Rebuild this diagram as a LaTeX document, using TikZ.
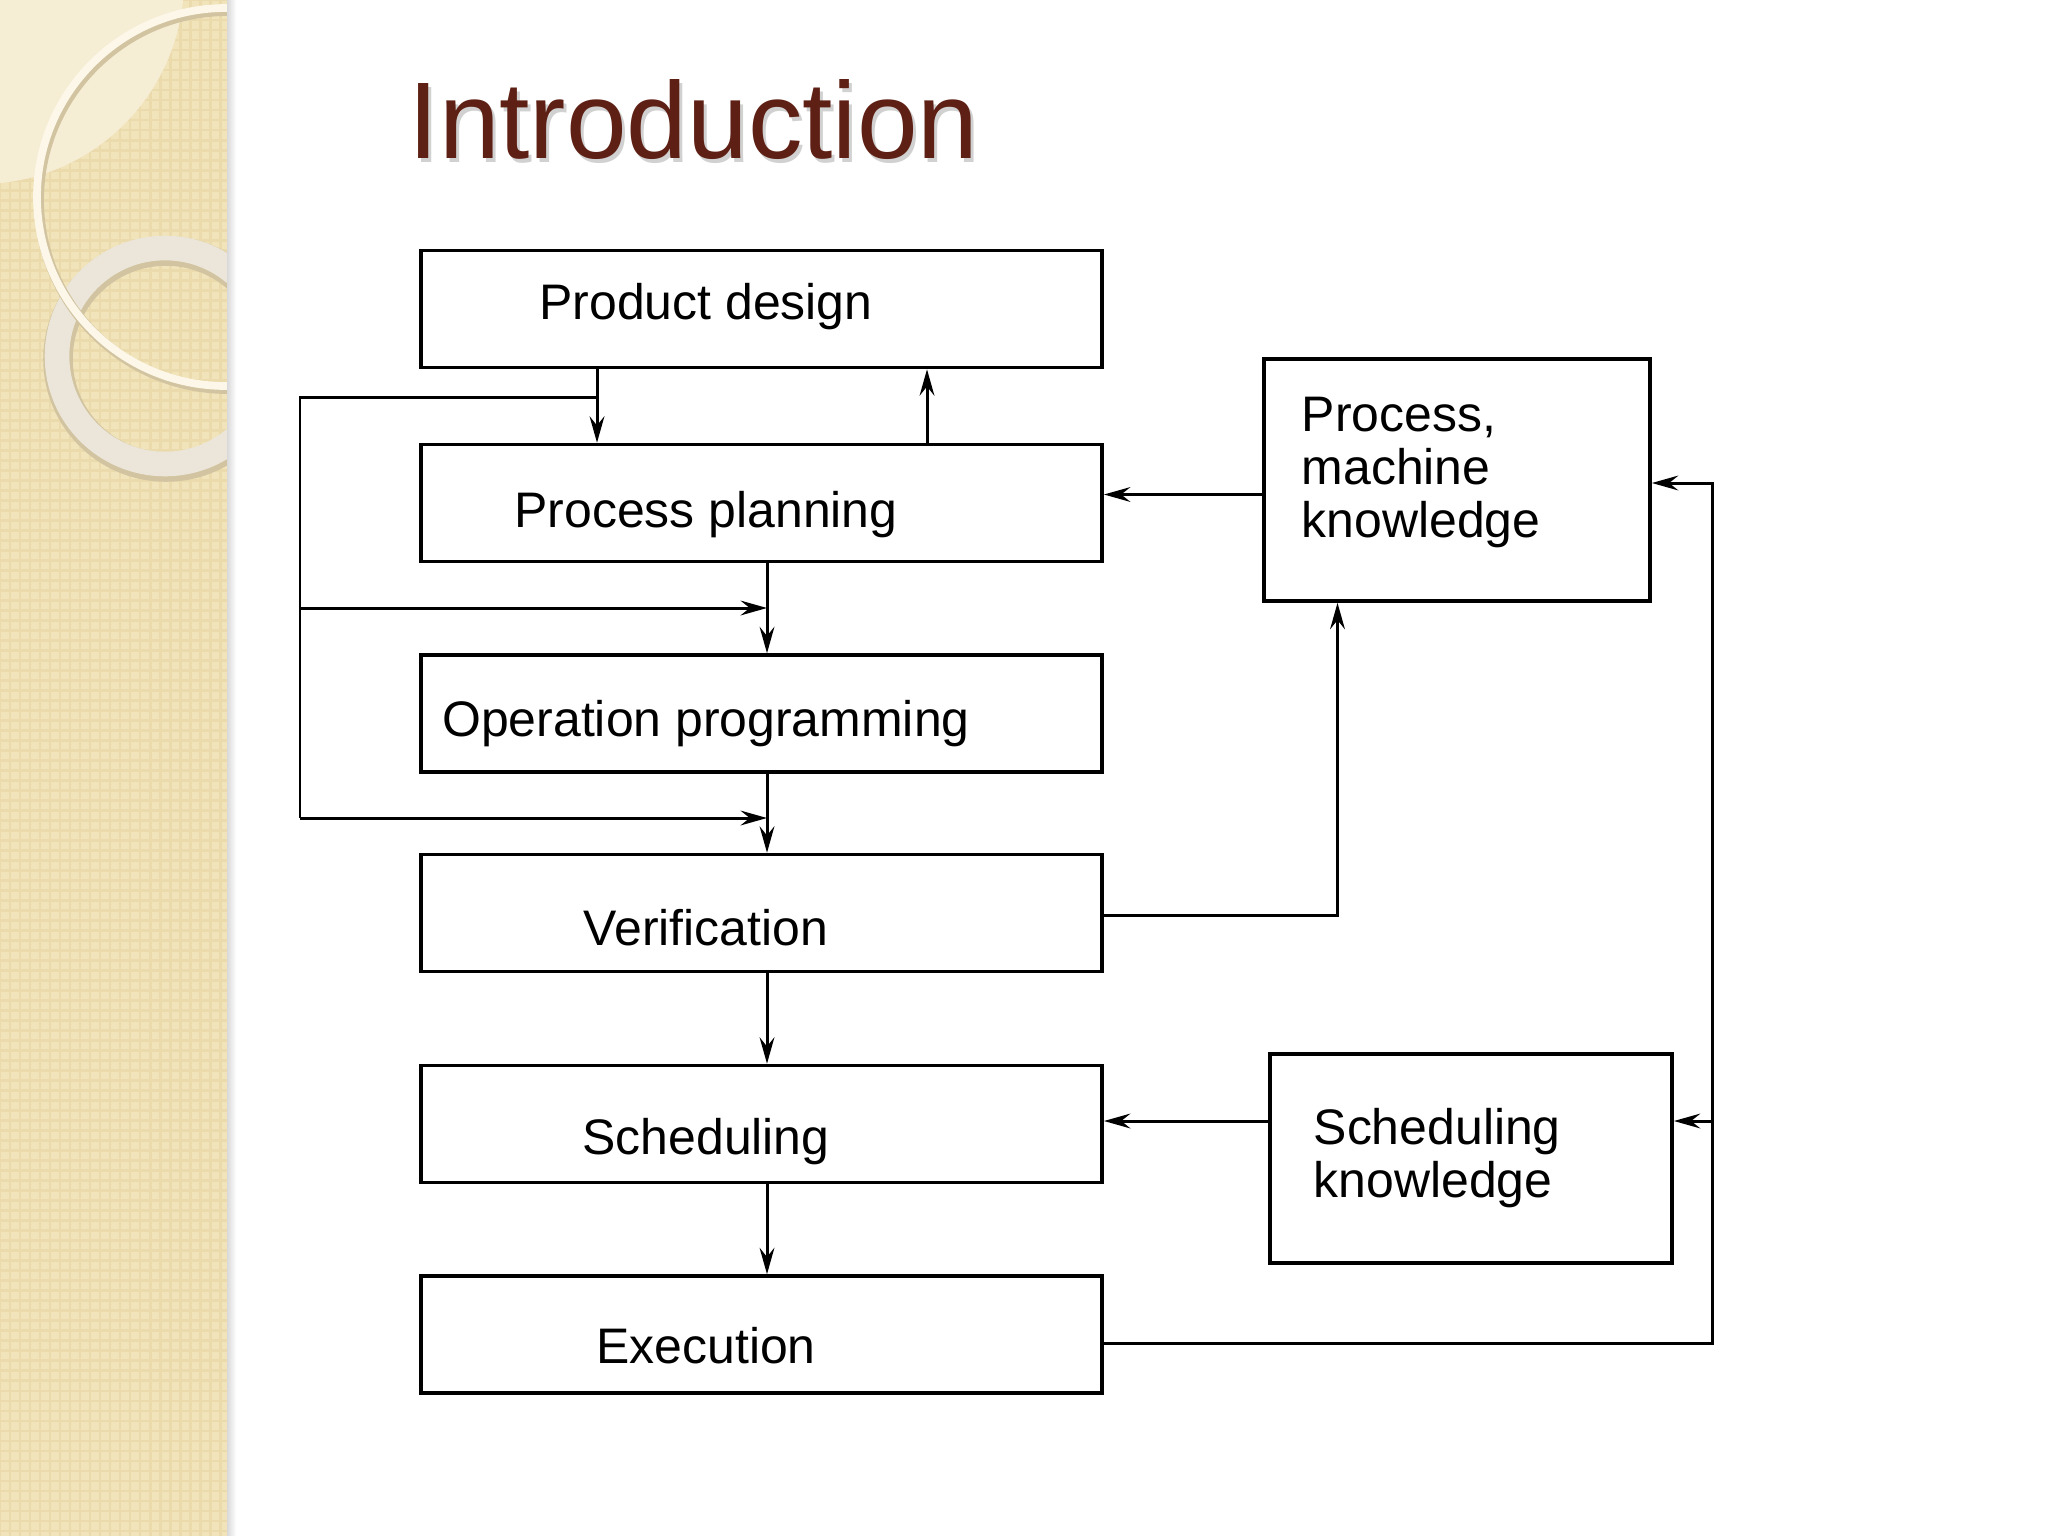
\documentclass[tikz,border=0pt]{standalone}
\usepackage{fontspec}
\setmainfont{Liberation Sans}
\usetikzlibrary{arrows.meta}

\definecolor{titlebrown}{RGB}{94,32,20}
\definecolor{panelbeige}{RGB}{241,227,186}
\definecolor{panelgrid}{RGB}{234,218,172}
\definecolor{panellight}{RGB}{246,237,213}
\definecolor{ringcream}{RGB}{252,247,232}
\definecolor{ringgrey}{RGB}{235,230,217}
\definecolor{ringedge}{RGB}{210,196,160}

\newcommand{\colx}{767}
\newcommand{\busl}{300}
\newcommand{\busr}{1712}
\newcommand{\txtx}{706}

\tikzset{
    box/.style={draw, line width=1pt, minimum width=6.81cm, minimum height=1.17cm, inner sep=0pt},
    knw/.style={draw, line width=1pt, inner sep=0pt},
    txt/.style={anchor=base, inner sep=0pt, font=\fontsize{14.2}{15}\selectfont},
    ktxt/.style={anchor=base west, inner sep=0pt, align=left, font=\fontsize{14.2}{15}\selectfont},
    ttl/.style={anchor=base west, inner sep=0pt, font=\fontsize{31}{36}\selectfont},
    arr/.style={line width=0.85pt, -{Stealth[length=7.5pt, width=4.2pt, inset=2.6pt]}},
    ln/.style={line width=0.85pt}
}

\begin{document}
\begin{tikzpicture}[x=0.01cm,y=-0.01cm]
                    \useasboundingbox (0,0) rectangle (2048,1536);
                    \fill[white] (0,0) rectangle (2048,1536);
                    \begin{scope}
                        \clip (0,0) rectangle (227,1536);
                        \fill[panelbeige] (0,0) rectangle (227,1536);
                        \draw[panelgrid, line width=0.8pt, step=0.1cm] (0,0) grid (227,1536);
                        \fill[panellight] (-20,-20) circle (204);
                        \draw[ringedge, line width=8.4pt] (166,359) circle (108);
                        \draw[ringgrey, line width=7pt] (165,356) circle (108);
                        \draw[ringedge, line width=2.8pt] (228,200) circle (189);
                        \draw[ringcream, line width=2.2pt] (226,197) circle (189);
                    \end{scope}
                    \shade[left color=black!15, right color=white] (227,0) rectangle (236,1536);

                    \node[ttl, text=black!40, opacity=0.45] (shd) at (411,162) {Introduction};
                    \node[ttl, text=titlebrown] (title) at (408,158) {Introduction};

                    \foreach \n/\y in {pd/309, pp/503, op/713.5, ver/913, sch/1124, exe/1334.5}
                    {
                        \node[box] (\n) at (761.5,\y) {};
                    }
                    \node[txt] (pdt) at (\txtx,319) {Product design};
                    \node[txt] (ppt) at (\txtx,527) {Process planning};
                    \node[txt] (opt) at (\txtx,736) {Operation programming};
                    \node[txt] (vert) at (\txtx,945) {Verification};
                    \node[txt] (scht) at (\txtx,1154) {Scheduling};
                    \node[txt] (exet) at (\txtx,1363) {Execution};

                    \node[knw, minimum width=3.86cm, minimum height=2.42cm] (pmk) at (1457,480) {};
                    \node[ktxt] (pmkt) at (1301,537) {Process,\\machine\\knowledge};
                    \node[knw, minimum width=4.02cm, minimum height=2.09cm] (skn) at (1471,1158.5) {};
                    \node[ktxt] (sknt) at (1313,1197) {Scheduling\\knowledge};

                    \coordinate (tl) at (\busl,397);
                    \coordinate (j1) at (597,397);
                    \coordinate (bl) at (\busl,818);
                    \coordinate (m1) at (\colx,608);
                    \coordinate (m2) at (\colx,818);
                    \coordinate (up) at (927,400);
                    \draw[arr] (j1 |- pd.south) -- (j1 |- pp.north);
                    \draw[ln] (j1) -- (tl) -- (bl);
                    \draw[arr] (tl |- m1) -- (m1);
                    \draw[arr] (bl) -- (m2);
                    \draw[arr] (up |- pp.north) -- (up |- pd.south);
                    \draw[arr] (m1 |- pp.south) -- (m1 |- op.north);
                    \draw[arr] (m1 |- op.south) -- (m1 |- ver.north);
                    \draw[arr] (m1 |- ver.south) -- (m1 |- sch.north);
                    \draw[arr] (m1 |- sch.south) -- (m1 |- exe.north);

                    \coordinate (k1) at (0,494.5);
                    \coordinate (k2) at (1337.5,915);
                    \coordinate (e1) at (\busr,1343);
                    \coordinate (e2) at (\busr,483);
                    \coordinate (s1) at (\busr,1121);
                    \draw[arr] (pmk.west |- k1) -- (pp.east |- k1);
                    \draw[arr] (ver.east |- k2) -- (k2) -- (k2 |- pmk.south);
                    \draw[arr] (exe.east |- e1) -- (e1) -- (e2) -- (pmk.east |- e2);
                    \draw[arr] (s1) -- (skn.east |- s1);
                    \draw[arr] (skn.west |- s1) -- (sch.east |- s1);
                \end{tikzpicture}
\end{document}
